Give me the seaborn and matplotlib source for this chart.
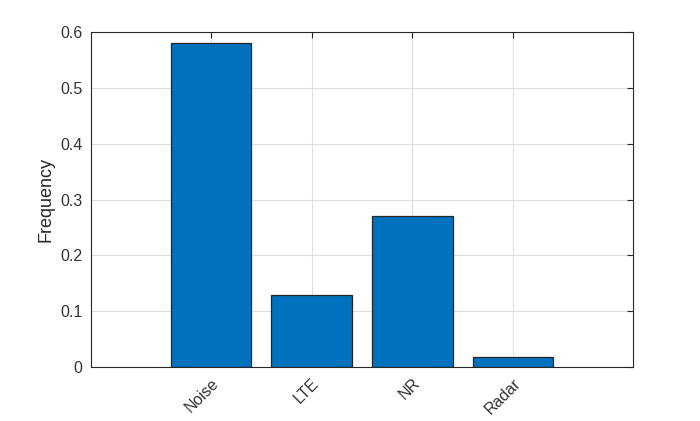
import pandas as pd
import matplotlib.pyplot as plt
import seaborn as sns

categories = ["Noise", "LTE", "NR", "Radar"]
frequency = [0.58, 0.13, 0.271, 0.0175]

df = pd.DataFrame({"Class": categories, "Frequency": frequency})

sns.set_style("white")
plt.rcParams['font.family'] = ['Liberation Sans', 'DejaVu Sans']

fig = plt.figure(figsize=(7, 4.21), dpi=100)
ax = fig.add_axes([0.13, 0.128, 0.774, 0.796])

sns.barplot(data=df, x="Class", y="Frequency", color="#0072BD", saturation=1,
            width=0.8, edgecolor="#262626", linewidth=0.9, ax=ax, zorder=3)

ax.set_xlim(-1.19, 4.19)
ax.set_ylim(0, 0.6)
ax.set_yticks([0, 0.1, 0.2, 0.3, 0.4, 0.5, 0.6])
ax.set_yticklabels(["0", "0.1", "0.2", "0.3", "0.4", "0.5", "0.6"])
ax.set_xlabel("")
ax.set_ylabel("Frequency", fontsize=13, color="#262626")
ax.grid(True, color="#dfdfdf", linewidth=0.8, zorder=0)
ax.set_axisbelow(True)

for s in ax.spines.values():
    s.set_color("#262626")
    s.set_linewidth(0.8)
    s.set_visible(True)

ax.tick_params(direction="in", length=4, width=0.8, color="#262626",
               top=True, right=True, labelsize=11.5, labelcolor="#333333", pad=6)
plt.setp(ax.get_xticklabels(), rotation=45, ha="right", rotation_mode="anchor")

fig.savefig("out.png", dpi=100)
